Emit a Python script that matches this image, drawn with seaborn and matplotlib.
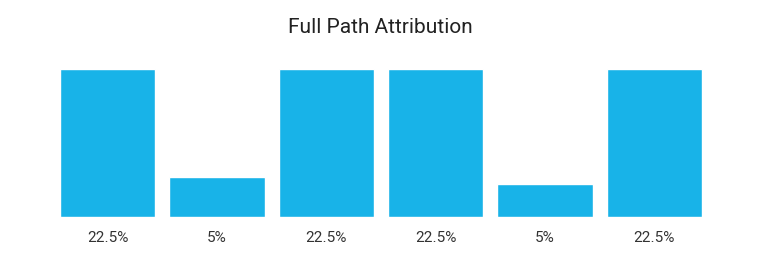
import matplotlib
matplotlib.use("Agg")
import matplotlib.pyplot as plt
import seaborn as sns
import pandas as pd

# Data
labels = ["22.5%", "5%", "22.5%", "22.5%", "5%", "22.5%"]
values = [22.5, 6.0, 22.5, 22.5, 5.0, 22.5]
positions = list(range(len(labels)))

sns.set_style("white")
plt.rcParams["font.family"] = ["Roboto", "DejaVu Sans"]

df = pd.DataFrame({"pos": positions, "value": values})

fig = plt.figure(figsize=(7.68, 2.59), dpi=100)
ax = fig.add_axes([53 / 768, 1 - 216.7 / 259, (709 - 53) / 768, (216.7 - 69) / 259])

sns.barplot(data=df, x="pos", y="value", color="#18b3e8", saturation=1,
            width=0.87, ax=ax, order=positions)

ax.set_xlim(-0.5, len(labels) - 0.5)
ax.set_ylim(0, 22.5)
ax.set_xticks(positions)
ax.set_xticklabels(labels, fontsize=11, color="#333333")
ax.tick_params(axis="x", length=0, pad=10)
ax.set_yticks([])
ax.set_xlabel("")
ax.set_ylabel("")
for s in ax.spines.values():
    s.set_visible(False)

fig.text(380 / 768, 1 - 27.5 / 259, "Full Path Attribution", ha="center", va="center",
         fontsize=15, color="#222222")

fig.savefig("out.png", dpi=100)
